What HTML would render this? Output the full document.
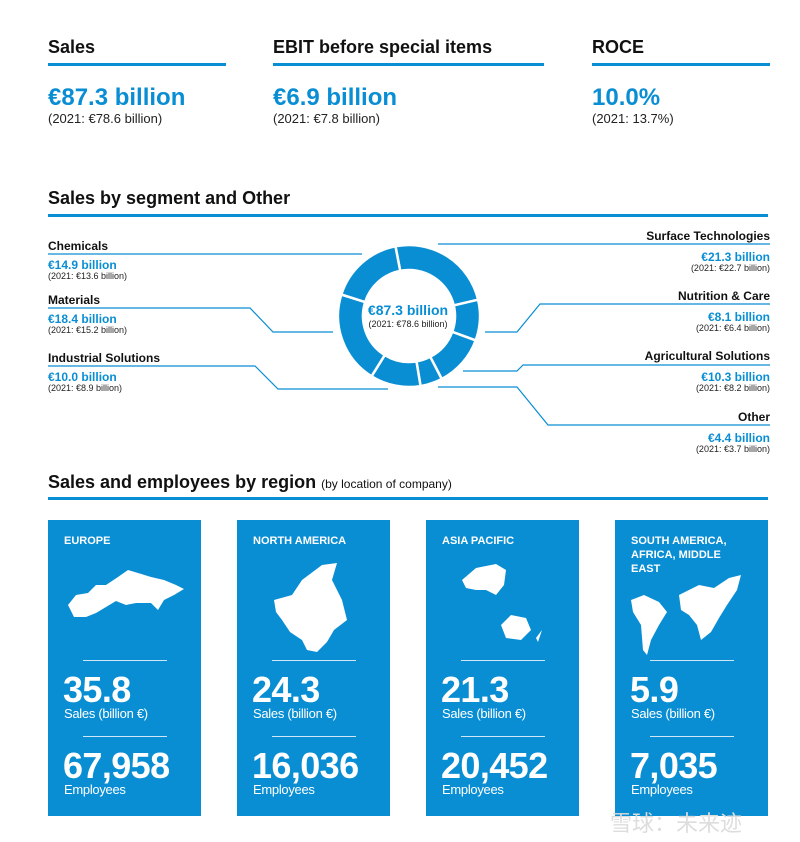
<!DOCTYPE html>
<html><head><meta charset="utf-8">
<style>
*{margin:0;padding:0;box-sizing:border-box}
body{width:800px;height:842px;background:#fff;font-family:"Liberation Sans",Arial,sans-serif;position:relative;overflow:hidden;color:#111}
.a{position:absolute;white-space:nowrap}
.h{font-weight:bold;font-size:18px;color:#111}
.ln{position:absolute;height:3px;background:#0a8ed3}
.big{font-weight:bold;font-size:24px;color:#0a8ed3}
.sub{font-size:13px;color:#222}
.sl{font-weight:bold;font-size:12px;color:#111}
.sv{font-weight:bold;font-size:12px;color:#0a8ed3}
.ss{font-size:9px;color:#222}
.r{text-align:right}
.card{position:absolute;top:520px;width:153px;height:296px;background:#0a8ed3;color:#fff}
.card .t{position:absolute;left:16px;top:14px;font-weight:bold;font-size:11px;line-height:14px}
.card .d{position:absolute;left:35px;width:84px;height:1px;background:#cfe7f6}
.card .n{position:absolute;left:15px;font-weight:bold;font-size:36px;letter-spacing:-0.6px}
.card .l{position:absolute;left:16px;font-size:13px;letter-spacing:-0.3px}
</style></head><body>
<div class="a h" style="left:48px;top:37px">Sales</div>
<div class="ln" style="left:48px;top:63px;width:178px"></div>
<div class="a big" style="left:48px;top:84px">€87.3 billion</div>
<div class="a sub" style="left:48px;top:111px">(2021: €78.6 billion)</div>

<div class="a h" style="left:273px;top:37px">EBIT before special items</div>
<div class="ln" style="left:273px;top:63px;width:271px"></div>
<div class="a big" style="left:273px;top:84px">€6.9 billion</div>
<div class="a sub" style="left:273px;top:111px">(2021: €7.8 billion)</div>

<div class="a h" style="left:592px;top:37px">ROCE</div>
<div class="ln" style="left:592px;top:63px;width:178px"></div>
<div class="a big" style="left:592px;top:84px">10.0%</div>
<div class="a sub" style="left:592px;top:111px">(2021: 13.7%)</div>

<div class="a h" style="left:48px;top:188px">Sales by segment and Other</div>
<div class="ln" style="left:48px;top:214px;width:720px"></div>

<svg class="a" style="left:0;top:0" width="800" height="470">
<g id="conn" fill="none" stroke="#0a8ed3" stroke-width="1.2">
<polyline points="48,254 362,254"/>
<polyline points="48,308 250,308 273,332 333,332"/>
<polyline points="48,366 255,366 278,389 388,389"/>
<polyline points="438,244 770,244"/>
<polyline points="485,332 517,332 540,304 770,304"/>
<polyline points="463,371 517,371 523,365 770,365"/>
<polyline points="438,387 517,387 548,425 770,425"/>
</g>
<g id="donut"></g>
<text x="408" y="315" text-anchor="middle" font-family="Liberation Sans" font-weight="bold" font-size="14" fill="#0a8ed3">€87.3 billion</text>
<text x="408" y="327" text-anchor="middle" font-family="Liberation Sans" font-size="9" fill="#222">(2021: €78.6 billion)</text>
</svg>

<div class="a sl" style="left:48px;top:239px">Chemicals</div>
<div class="a sv" style="left:48px;top:258px">€14.9 billion</div>
<div class="a ss" style="left:48px;top:271px">(2021: €13.6 billion)</div>
<div class="a sl" style="left:48px;top:293px">Materials</div>
<div class="a sv" style="left:48px;top:312px">€18.4 billion</div>
<div class="a ss" style="left:48px;top:325px">(2021: €15.2 billion)</div>
<div class="a sl" style="left:48px;top:351px">Industrial Solutions</div>
<div class="a sv" style="left:48px;top:370px">€10.0 billion</div>
<div class="a ss" style="left:48px;top:383px">(2021: €8.9 billion)</div>

<div class="a sl r" style="right:30px;top:229px">Surface Technologies</div>
<div class="a sv r" style="right:30px;top:250px">€21.3 billion</div>
<div class="a ss r" style="right:30px;top:263px">(2021: €22.7 billion)</div>
<div class="a sl r" style="right:30px;top:289px">Nutrition &amp; Care</div>
<div class="a sv r" style="right:30px;top:310px">€8.1 billion</div>
<div class="a ss r" style="right:30px;top:323px">(2021: €6.4 billion)</div>
<div class="a sl r" style="right:30px;top:349px">Agricultural Solutions</div>
<div class="a sv r" style="right:30px;top:370px">€10.3 billion</div>
<div class="a ss r" style="right:30px;top:383px">(2021: €8.2 billion)</div>
<div class="a sl r" style="right:30px;top:410px">Other</div>
<div class="a sv r" style="right:30px;top:431px">€4.4 billion</div>
<div class="a ss r" style="right:30px;top:444px">(2021: €3.7 billion)</div>

<div class="a h" style="left:48px;top:472px">Sales and employees by region <span style="font-weight:normal;font-size:12px">(by location of company)</span></div>
<div class="ln" style="left:48px;top:497px;width:720px"></div>

<div class="card" style="left:48px">
<div class="t">EUROPE</div>
<svg class="a" style="left:18px;top:45px" width="120" height="60"><path d="M2,40 L10,30 L22,28 L30,20 L40,20 L52,12 L62,5 L72,8 L85,12 L98,15 L110,20 L118,24 L108,30 L98,35 L92,45 L85,38 L70,38 L60,40 L50,36 L40,42 L30,48 L20,52 L8,52 Z" fill="#fff"/></svg>
<div class="d" style="top:140px"></div>
<div class="n" style="top:149px">35.8</div>
<div class="l" style="top:186px">Sales (billion €)</div>
<div class="d" style="top:216px"></div>
<div class="n" style="top:225px">67,958</div>
<div class="l" style="top:262px">Employees</div>
</div>
<div class="card" style="left:237px">
<div class="t">NORTH AMERICA</div>
<svg class="a" style="left:35px;top:40px" width="80" height="100"><path d="M2,40 L20,35 L30,20 L50,5 L65,3 L60,20 L70,40 L75,60 L62,70 L55,82 L45,92 L35,90 L30,80 L18,72 L10,60 L4,52 Z" fill="#fff"/></svg>
<div class="d" style="top:140px"></div>
<div class="n" style="top:149px">24.3</div>
<div class="l" style="top:186px">Sales (billion €)</div>
<div class="d" style="top:216px"></div>
<div class="n" style="top:225px">16,036</div>
<div class="l" style="top:262px">Employees</div>
</div>
<div class="card" style="left:426px">
<div class="t">ASIA PACIFIC</div>
<svg class="a" style="left:30px;top:40px" width="90" height="85"><path d="M6,20 L20,8 L40,4 L50,10 L48,25 L40,35 L30,30 L20,30 L10,28 Z M45,65 L55,55 L70,58 L75,70 L65,80 L50,78 Z M80,78 L86,70 L82,82 Z" fill="#fff"/></svg>
<div class="d" style="top:140px"></div>
<div class="n" style="top:149px">21.3</div>
<div class="l" style="top:186px">Sales (billion €)</div>
<div class="d" style="top:216px"></div>
<div class="n" style="top:225px">20,452</div>
<div class="l" style="top:262px">Employees</div>
</div>
<div class="card" style="left:615px">
<div class="t">SOUTH AMERICA,<br>AFRICA, MIDDLE<br>EAST</div>
<svg class="a" style="left:14px;top:50px" width="130" height="90"><path d="M2,30 L15,25 L30,32 L38,42 L30,55 L22,70 L18,85 L14,80 L12,55 L4,42 Z M50,25 L70,15 L85,18 L100,8 L112,5 L108,20 L98,35 L90,48 L82,62 L72,70 L68,55 L60,45 L52,40 Z" fill="#fff"/></svg>
<div class="d" style="top:140px"></div>
<div class="n" style="top:149px">5.9</div>
<div class="l" style="top:186px">Sales (billion €)</div>
<div class="d" style="top:216px"></div>
<div class="n" style="top:225px">7,035</div>
<div class="l" style="top:262px">Employees</div>
</div>
<div class="a" style="left:610px;top:806px;font-family:'Liberation Sans','Noto Sans CJK SC',sans-serif;font-size:22px;color:#ddd">雪球：未来迹</div>

<script>
const segments = ["Surface Technologies","Nutrition & Care","Agricultural Solutions","Other","Industrial Solutions","Materials","Chemicals"];
const sales = [21.3,8.1,10.3,4.4,10.0,18.4,14.9];
(function(){
  const g=document.getElementById('donut');
  const cx=409,cy=316,ro=71,ri=46,start=-11;
  const total=sales.reduce((a,b)=>a+b,0);
  let a=start;
  const pt=(ang,r)=>{const t=(ang-90)*Math.PI/180;return [cx+r*Math.cos(t),cy+r*Math.sin(t)];};
  sales.forEach((v,i)=>{
    const sw=v/total*360, a2=a+sw, lg=sw>180?1:0;
    const p1=pt(a,ro),p2=pt(a2,ro),p3=pt(a2,ri),p4=pt(a,ri);
    const p=document.createElementNS('http://www.w3.org/2000/svg','path');
    p.setAttribute('d',`M${p1} A${ro},${ro} 0 ${lg} 1 ${p2} L${p3} A${ri},${ri} 0 ${lg} 0 ${p4} Z`);
    p.setAttribute('fill','#0a8ed3');p.setAttribute('stroke','#fff');p.setAttribute('stroke-width','2.5');
    
    
    g.appendChild(p);
    a=a2;
  });
})();
</script>
</body></html>
